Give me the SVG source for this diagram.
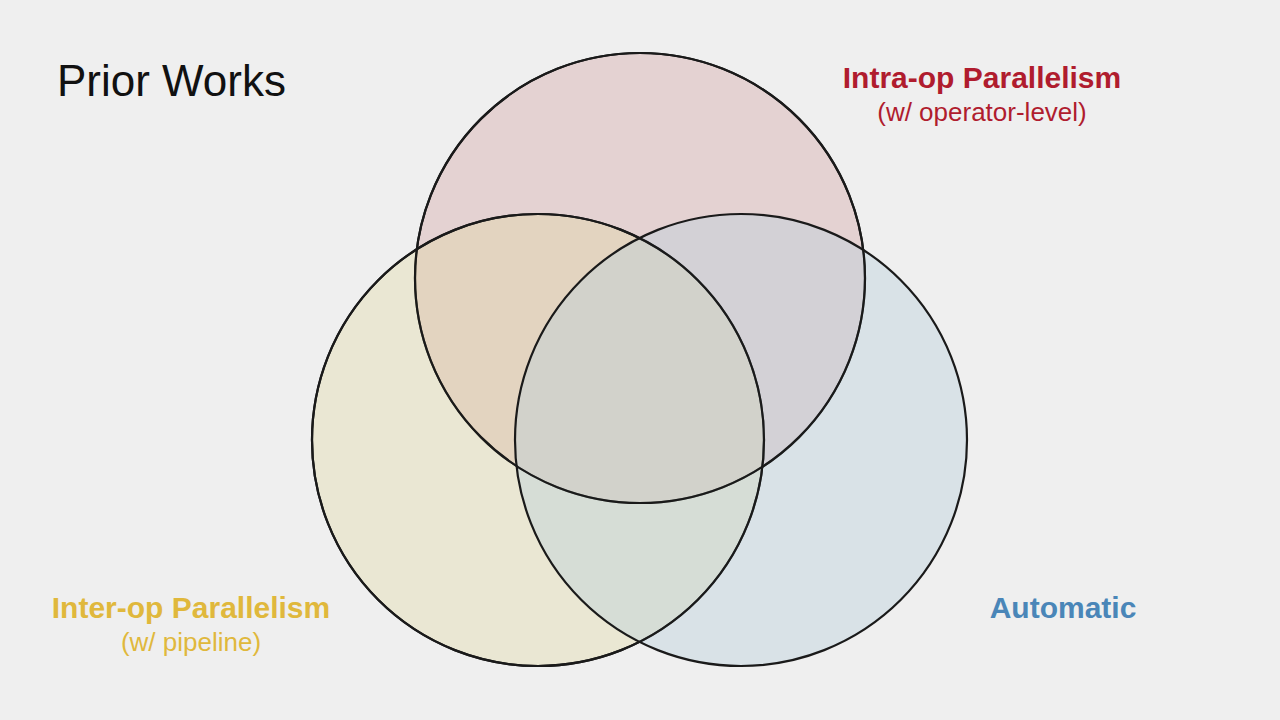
<svg xmlns="http://www.w3.org/2000/svg" width="1280" height="720" viewBox="0 0 1280 720">
<style>
.c{stroke:#1a1a1a;stroke-width:2.2}
.t{font-family:"Liberation Sans",Arial,sans-serif;text-anchor:middle}
</style>
<rect width="1280" height="720" fill="#efefef"/>
<text x="57" y="96" font-family="Liberation Sans,Arial,sans-serif" font-size="44" fill="#111">Prior Works</text>
<g id="intra"><circle class="c" cx="640" cy="278" r="225" fill="#c98f8f" fill-opacity="0.3"/></g>
<g id="inter"><circle class="c" cx="538" cy="440" r="226" fill="#e2d9a0" fill-opacity="0.35"/></g>
<g id="auto"><circle class="c" cx="741" cy="440" r="226" fill="#b8cfdc" fill-opacity="0.4"/></g>
<g fill="none" class="c"><circle cx="640" cy="278" r="225"/><circle cx="538" cy="440" r="226"/></g>
<text class="t" x="982" y="88" font-size="30" font-weight="bold" fill="#b01c2e">Intra-op Parallelism</text>
<text class="t" x="982" y="121" font-size="26" fill="#b01c2e">(w/ operator-level)</text>
<text class="t" x="191" y="618" font-size="30" font-weight="bold" fill="#e0b83c">Inter-op Parallelism</text>
<text class="t" x="191" y="651" font-size="26" fill="#e0b83c">(w/ pipeline)</text>
<text class="t" x="1063" y="618" font-size="30" font-weight="bold" fill="#4a86b8">Automatic</text>
</svg>
